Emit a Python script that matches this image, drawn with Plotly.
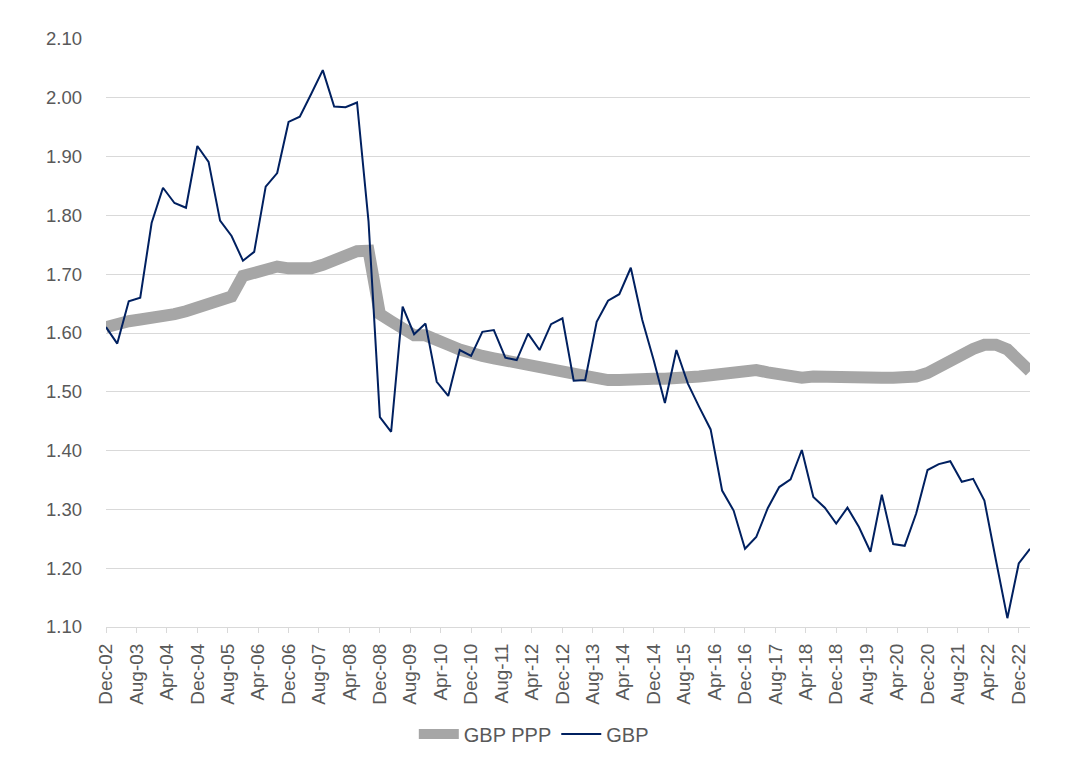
import pandas as pd
import plotly.graph_objects as go

# Quarterly dates Dec-02 .. Mar-23
dates = pd.date_range("2002-12-01", periods=82, freq="3MS")

gbp_ppp = [
    1.610, 1.617, 1.620, 1.623, 1.625, 1.627, 1.632, 1.637, 1.643, 1.650,
    1.654, 1.662, 1.697, 1.703, 1.712, 1.713, 1.710, 1.710, 1.710, 1.716,
    1.725, 1.733, 1.739, 1.740, 1.632, 1.620, 1.607, 1.596, 1.596, 1.590,
    1.580, 1.572, 1.565, 1.561, 1.557, 1.554, 1.550, 1.545, 1.542, 1.539,
    1.536, 1.531, 1.527, 1.522, 1.520, 1.520, 1.522, 1.522, 1.522, 1.522,
    1.522, 1.524, 1.526, 1.528, 1.531, 1.534, 1.537, 1.537, 1.533, 1.530,
    1.526, 1.524, 1.526, 1.525, 1.524, 1.523, 1.522, 1.520, 1.524, 1.524,
    1.523, 1.526, 1.532, 1.543, 1.555, 1.565, 1.573, 1.580, 1.580, 1.572,
    1.556, 1.535,
]

gbp = [
    1.610, 1.582, 1.654, 1.660, 1.787, 1.847, 1.821, 1.813, 1.918, 1.891,
    1.791, 1.765, 1.723, 1.738, 1.849, 1.872, 1.959, 1.968, 2.007, 2.047,
    1.985, 1.984, 1.992, 1.790, 1.457, 1.432, 1.645, 1.598, 1.616, 1.517,
    1.493, 1.571, 1.561, 1.602, 1.605, 1.558, 1.554, 1.599, 1.571, 1.615,
    1.625, 1.519, 1.520, 1.619, 1.655, 1.666, 1.711, 1.622, 1.554, 1.481,
    1.571, 1.514, 1.474, 1.436, 1.332, 1.298, 1.233, 1.253, 1.302, 1.338,
    1.351, 1.401, 1.321, 1.303, 1.276, 1.303, 1.270, 1.228, 1.325, 1.241,
    1.238, 1.293, 1.367, 1.377, 1.382, 1.347, 1.352, 1.315, 1.214, 1.115,
    1.208, 1.233,
]

y_ticks = [1.10, 1.20, 1.30, 1.40, 1.50, 1.60, 1.70, 1.80, 1.90, 2.00, 2.10]

FONT = "Liberation Sans, Arial, sans-serif"
TXT = "#595959"

fig = go.Figure()
fig.add_trace(go.Scatter(
    x=dates, y=gbp_ppp, mode="lines", name="GBP PPP",
    line=dict(color="#a6a6a6", width=12),
))
fig.add_trace(go.Scatter(
    x=dates, y=gbp, mode="lines", name="GBP",
    line=dict(color="#002060", width=2),
))

fig.update_layout(
    width=1087, height=772,
    margin=dict(l=106, r=57, t=39, b=145, autoexpand=False),
    paper_bgcolor="white", plot_bgcolor="white",
    font=dict(family=FONT, size=18, color=TXT),
    showlegend=True,
    legend=dict(
        orientation="h", x=0.463, xanchor="center",
        y=-0.182, yanchor="middle",
        font=dict(family=FONT, size=20, color=TXT),
        itemwidth=40,
    ),
    xaxis=dict(
        type="date",
        range=[dates[0], dates[-1]],
        tick0="2002-12-01", dtick="M8", tickformat="%b-%y",
        tickangle=-90,
        showgrid=False,
        showline=True, linecolor="#d9d9d9", linewidth=1,
        ticks="outside", ticklen=5, tickcolor="#d9d9d9",
        ticklabelstandoff=3,
        tickfont=dict(family=FONT, size=19, color=TXT),
    ),
    yaxis=dict(
        range=[1.10, 2.10],
        tickvals=y_ticks,
        ticktext=[f"{v:.2f}" for v in y_ticks],
        showgrid=True, gridcolor="#d9d9d9", gridwidth=1,
        zeroline=False, showline=False,
        ticks="", ticklabelstandoff=23,
        tickfont=dict(family=FONT, size=18.5, color=TXT),
    ),
)

fig.write_html("out.html")
